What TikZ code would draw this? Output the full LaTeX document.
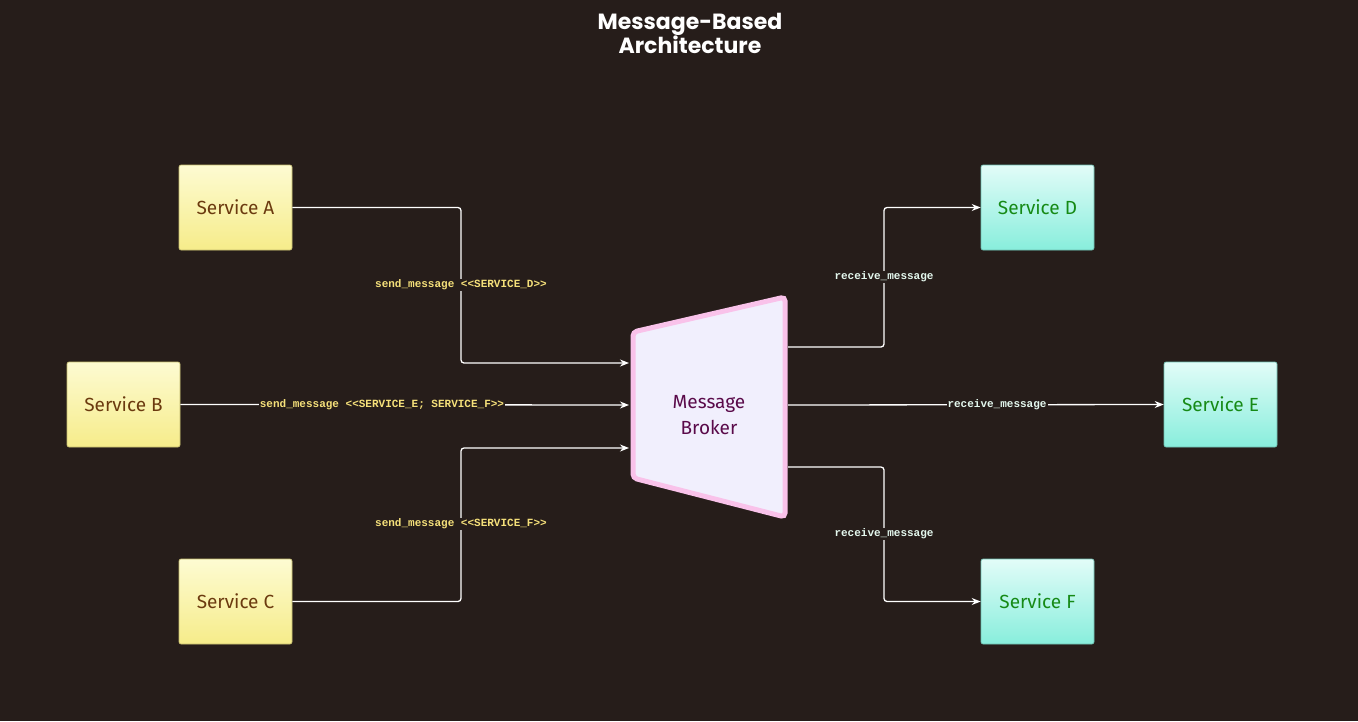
\documentclass[tikz,border=0pt]{standalone}
\usepackage{fontspec}
\setmainfont{Fira Sans}
\newfontfamily\titlefont{Poppins}
\newfontfamily\labfont{Liberation Mono}
\usetikzlibrary{arrows.meta}
\definecolor{bg}{HTML}{261D1A}
\definecolor{ytop}{HTML}{FDFBD2}
\definecolor{ybot}{HTML}{F6EC8A}
\definecolor{ytext}{HTML}{6B3A0F}
\definecolor{ctop}{HTML}{E2FCF8}
\definecolor{cbot}{HTML}{88EEDC}
\definecolor{ctext}{HTML}{168A16}
\definecolor{sendc}{HTML}{F5E07A}
\definecolor{recvc}{HTML}{E4F8EE}
\definecolor{brokerfill}{HTML}{F1EFFD}
\definecolor{brokeredge}{HTML}{F9C2EA}
\definecolor{brokertext}{HTML}{5A0A4A}
\tikzset{
  ysvc/.style={draw=ybot!80!black, line width=0.6pt, rounded corners=2pt, top color=ytop, bottom color=ybot, minimum width=113pt, minimum height=85pt, text=ytext, font=\fontsize{19}{22}\selectfont},
  csvc/.style={draw=cbot!80!black, line width=0.6pt, rounded corners=2pt, top color=ctop, bottom color=cbot, minimum width=113pt, minimum height=85pt, text=ctext, font=\fontsize{19}{22}\selectfont},
  conn/.style={draw=white, line width=1.3pt, rounded corners=3pt, -{Stealth[length=9pt,width=7pt]}},
  slab/.style={fill=bg, text=sendc, font=\labfont\bfseries\fontsize{11}{13}\selectfont, inner sep=1pt},
  rlab/.style={fill=bg, text=recvc, font=\labfont\bfseries\fontsize{11}{13}\selectfont, inner sep=1pt},
}
\begin{document}
\begin{tikzpicture}[x=1pt,y=-1pt]
\fill[bg] (0,0) rectangle (1358,721);
\useasboundingbox (0,0) rectangle (1358,721);
\node[text=white, font=\titlefont\bfseries\fontsize{22}{24}\selectfont, align=center] (title) at (690,33) {Message-Based\\Architecture};
\node[ysvc] (A) at (235.5,207.5) {Service A};
\node[ysvc] (B) at (123.5,404.5) {Service B};
\node[ysvc] (C) at (235.5,601.5) {Service C};
\node[csvc] (D) at (1037.5,207.5) {Service D};
\node[csvc] (E) at (1220.5,404.5) {Service E};
\node[csvc] (F) at (1037.5,601.5) {Service F};
\draw[draw=brokeredge, line width=5pt, fill=brokerfill, rounded corners=4pt] (633,332) -- (785,297) -- (785,517) -- (633,478) -- cycle;
\node[text=brokertext, font=\fontsize{19}{26}\selectfont, align=center] (M) at (709,415) {Message\\Broker};
\coordinate (mA) at (629,363);
\coordinate (mB) at (629,405);
\coordinate (mC) at (629,448);
\coordinate (oD) at (788,347);
\coordinate (oE) at (788,405);
\coordinate (oF) at (788,467);
\draw[conn] (A.east) -| (461,285) |- (mA);
\node[slab] (la) at (461,285) {send\_message <<SERVICE\_D>>};
\draw[conn] (B.east) -- (mB);
\node[slab] (lb) at (382,405) {send\_message <<SERVICE\_E; SERVICE\_F>>};
\draw[conn] (C.east) -| (461,524) |- (mC);
\node[slab] (lc) at (461,524) {send\_message <<SERVICE\_F>>};
\draw[conn] (oD) -| (884,277) |- (D.west);
\node[rlab] (ld) at (884,277) {receive\_message};
\draw[conn] (oE) -- (E.west);
\node[rlab] (le) at (997,405) {receive\_message};
\draw[conn] (oF) -| (884,534) |- (F.west);
\node[rlab] (lf) at (884,534) {receive\_message};
\end{tikzpicture}
\end{document}
